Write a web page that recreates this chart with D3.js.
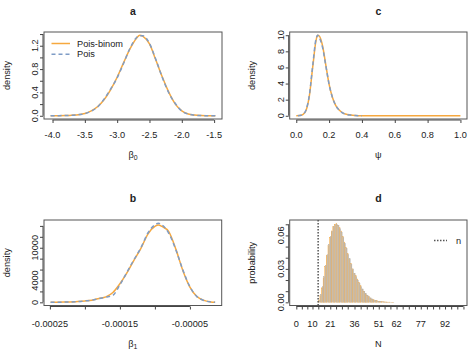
<!DOCTYPE html>
<html><head><meta charset="utf-8">
<script src="https://cdn.jsdelivr.net/npm/d3@7"></script>
<style>body{margin:0;background:#fff} svg{display:block}</style>
</head><body><svg id="chart" width="474" height="354"></svg>
<script>
// ---------- DATA ----------
// panel a: posterior density of beta0
const b0Grid      = [-4.03,-3.9,-3.8,-3.7,-3.6,-3.5,-3.4,-3.3,-3.2,-3.1,-3.0,-2.9,-2.8,-2.7,-2.65,-2.6,-2.5,-2.4,-2.3,-2.2,-2.1,-2.0,-1.9,-1.8,-1.7,-1.6,-1.48];
const b0PoisBinom = [0,0.002,0.005,0.01,0.018,0.038,0.085,0.16,0.28,0.45,0.66,0.91,1.15,1.33,1.38,1.36,1.23,0.95,0.66,0.40,0.20,0.085,0.03,0.012,0.005,0.002,0];
const b0Pois      = [0,0.002,0.004,0.009,0.02,0.035,0.08,0.155,0.29,0.46,0.65,0.90,1.16,1.34,1.37,1.37,1.24,0.96,0.65,0.39,0.21,0.08,0.03,0.01,0.004,0.001,0];
const aYTicks = [0,0.2,0.4,0.6,0.8,1.0,1.2,1.4];
const aYLabels = ["0.0","","0.4","","0.8","","1.2",""];
const aXTicks = [-4.0,-3.5,-3.0,-2.5,-2.0,-1.5];
const aXLabels = ["-4.0","-3.5","-3.0","-2.5","-2.0","-1.5"];

// panel b: posterior density of beta1
const b1Grid      = [-0.000249,-0.00023,-0.00021,-0.0002,-0.00019,-0.00018,-0.00017,-0.00016,-0.00015,-0.00014,-0.00013,-0.00012,-0.00011,-0.0001,-0.000095,-0.00009,-0.00008,-0.00007,-0.00006,-0.00005,-0.00004,-0.00003,-0.00002,-0.000014];
const b1PoisBinom = [0,50,150,250,400,700,1000,1800,3400,5400,7700,9900,12500,13900,14150,13900,12900,9700,5800,2800,1060,350,80,0];
const b1Pois      = [0,40,140,260,420,680,950,1300,3200,5500,7800,10000,12700,14200,14500,14200,12600,9600,5900,2850,1050,330,70,0];
const bYTicks = [0,2000,4000,6000,8000,10000,12000,14000];
const bYLabels = ["0","","4000","","","10000","",""];
const bXTicks = [-0.00025,-0.0002,-0.00015,-0.0001,-0.00005];
const bXLabels = ["-0.00025","","-0.00015","","-0.00005"];

// panel c: posterior density of psi
const psiGridPB   = [0,0.02,0.04,0.06,0.08,0.10,0.12,0.13,0.14,0.16,0.18,0.20,0.22,0.24,0.26,0.28,0.30,0.33,0.36,0.40,0.5,0.6,0.7,0.8,0.9,1.0];
const psiPoisBinom= [0,0.02,0.15,0.7,2.5,6.0,9.3,10.0,9.9,8.7,6.3,3.9,2.3,1.3,0.75,0.4,0.22,0.1,0.04,0.01,0.003,0.001,0,0,0,0];
const psiGridP    = [0.01,0.02,0.04,0.06,0.08,0.10,0.12,0.13,0.14,0.16,0.18,0.20,0.22,0.24,0.26,0.28,0.30,0.33,0.36,0.40];
const psiPois     = [0,0.03,0.17,0.75,2.6,6.2,9.5,10.0,9.7,8.5,6.2,3.9,2.3,1.3,0.72,0.38,0.2,0.09,0.03,0.01];
const cYTicks = [0,2,4,6,8,10];
const cYLabels = ["0","2","4","6","8","10"];
const cXTicks = [0,0.2,0.4,0.6,0.8,1.0];
const cXLabels = ["0.0","0.2","0.4","0.6","0.8","1.0"];

// panel d: posterior probability of N
const nObs = 14;
const dN = d3.range(14, 106);
const dPoisBinom = [0.002,0.006,0.013,0.022,0.032,0.042,0.051,0.058,0.064,0.068,0.070,0.071,0.069,0.067,0.064,0.059,0.054,0.049,0.044,0.039,0.035,0.030,0.026,0.024,0.021,0.018,0.015,0.012,0.010,0.008,0.0065,0.005,0.004,0.003,0.0023,0.0018,0.0014,0.001,0.0008,0.0006,0.0005,0.0004,0.0003,0.0002,0.0002,0.0001,0.0001,
  0,0,0,0,0,0,0,0,0,0,0,0,0,0,0,0,0,0,0,0,0,0,0,0,0,0,0,0,0,0,0,0,0,0,0,0,0,0,0,0,0,0,0,0,0];
const dPois = [0.002,0.007,0.014,0.023,0.033,0.043,0.052,0.059,0.064,0.068,0.070,0.070,0.069,0.066,0.063,0.058,0.053,0.048,0.043,0.039,0.034,0.030,0.026,0.023,0.020,0.017,0.014,0.012,0.010,0.008,0.0063,0.005,0.004,0.003,0.0022,0.0017,0.0013,0.001,0.0008,0.0006,0.0004,0.0003,0.0002,0.0002,0.0001,0.0001,0.0001,
  0,0,0,0,0,0,0,0,0,0,0,0,0,0,0,0,0,0,0,0,0,0,0,0,0,0,0,0,0,0,0,0,0,0,0,0,0,0,0,0,0,0,0,0,0];
const dYTicks = [0,0.01,0.02,0.03,0.04,0.05,0.06,0.07];
const dYLabels = ["0.00","","","0.03","","","0.06",""];
const dXTicks = [0,3.4,6.8,10,13.6,17.2,21,24.6,28.2,31.8,36,39.8,43.6,47.4,51,54.6,58.2,62,65.8,69.6,73.4,77,80.8,84.6,88.4,92,95.8,99.6,103.4];
const dXLabels = ["0","","","10","","","21","","","","36","","","","51","","","62","","","","77","","","","92","","",""];

const seriesNames = ["Pois-binom","Pois"];

// ---------- STYLE ----------
const FONT = '"Liberation Sans", Arial, Helvetica, sans-serif';
const ORANGE = "#F6A83F";
const BLUE = "#7E9CC6";
const AXC = "#444";
const TXT = "#222";
const FS = 9.2;

const svg = d3.select("#chart").style("font-family", FONT);

function rPad(ext){ const r = ext[1]-ext[0]; return [ext[0]-0.04*r, ext[1]+0.04*r]; }

function panel(cfg){
  const [L,T,R,B] = cfg.box;
  const g = svg.append("g");
  const x = d3.scaleLinear().domain(cfg.xDom).range([L,R]);
  const y = d3.scaleLinear().domain(cfg.yDom).range([B,T]);
  // x axis
  const xa = g.append("g").attr("transform",`translate(0,${B})`)
    .call(d3.axisBottom(x).tickValues(cfg.xTicks).tickSize(4).tickFormat(()=>""));
  xa.select(".domain").remove();
  xa.selectAll("line").attr("stroke",AXC).attr("y1",1);
  g.append("line").attr("x1",x(cfg.xTicks[0])).attr("x2",x(cfg.xTicks[cfg.xTicks.length-1]))
    .attr("y1",B+1).attr("y2",B+1).attr("stroke",AXC);
  g.selectAll(".xl").data(cfg.xTicks.map((v,i)=>({v,l:cfg.xLabels[i]})).filter(d=>d.l))
    .enter().append("text").attr("x",d=>x(d.v)).attr("y",B+cfg.xlOff).attr("dy","0.35em")
    .attr("text-anchor","middle").attr("font-size",FS).attr("fill",TXT).text(d=>d.l);
  // y axis
  const ya = g.append("g").attr("transform",`translate(${L},0)`)
    .call(d3.axisLeft(y).tickValues(cfg.yTicks).tickSize(4).tickFormat(()=>""));
  ya.select(".domain").remove();
  ya.selectAll("line").attr("stroke",AXC).attr("x1",-1);
  g.append("line").attr("y1",y(cfg.yTicks[0])).attr("y2",y(cfg.yTicks[cfg.yTicks.length-1]))
    .attr("x1",L-1).attr("x2",L-1).attr("stroke",AXC);
  g.selectAll(".yl").data(cfg.yTicks.map((v,i)=>({v,l:cfg.yLabels[i]})).filter(d=>d.l))
    .enter().append("text").attr("transform",d=>`translate(${L-9},${y(d.v)}) rotate(-90)`)
    .attr("dy","0.35em").attr("text-anchor","middle").attr("font-size",FS).attr("fill",TXT).text(d=>d.l);
  // labels
  g.append("text").attr("x",(L+R)/2).attr("y",T-cfg.titleOff).attr("dy","0.35em").attr("text-anchor","middle")
    .attr("font-size",10.5).attr("font-weight","bold").attr("fill",TXT).text(cfg.title);
  g.append("text").attr("transform",`translate(${L-37.5},${(T+B)/2}) rotate(-90)`).attr("dy","0.35em")
    .attr("text-anchor","middle").attr("font-size",FS).attr("fill",TXT).text(cfg.ylab);
  const xl = g.append("text").attr("x",(L+R)/2).attr("y",B+cfg.xlabOff).attr("dy","0.35em")
    .attr("text-anchor","middle").attr("font-size",FS).attr("fill",TXT);
  xl.append("tspan").text(cfg.xlab[0]);
  if (cfg.xlab[1]) xl.append("tspan").attr("font-size",FS*0.75).attr("dy","0.3em").text(cfg.xlab[1]);
  const plot = g.append("g");
  // box
  g.append("rect").attr("x",L).attr("y",T).attr("width",R-L).attr("height",B-T)
    .attr("fill","none").attr("stroke","#555").attr("stroke-width",1);
  return {x,y,plot,g};
}

function curves(p, gx1, v1, gx2, v2){
  const line = (gx)=>d3.line().x((d,i)=>p.x(gx[i])).y(d=>p.y(d)).curve(d3.curveMonotoneX);
  p.plot.append("path").attr("d",line(gx1)(v1)).attr("fill","none").attr("stroke",ORANGE).attr("stroke-width",1.5);
  p.plot.append("path").attr("d",line(gx2)(v2)).attr("fill","none").attr("stroke",BLUE).attr("stroke-width",1.5)
    .attr("stroke-dasharray","4,3");
}

// panel a
const pa = panel({box:[44,32,222,119], xDom:rPad(d3.extent(b0Grid)), yDom:rPad([0,d3.max(b0PoisBinom)]),
  xTicks:aXTicks, xLabels:aXLabels, yTicks:aYTicks, yLabels:aYLabels, title:"a", titleOff:21,
  ylab:"density", xlab:["β","0"], xlOff:16, xlabOff:36});
curves(pa, b0Grid, b0PoisBinom, b0Grid, b0Pois);
// legend a
const lg = pa.g.append("g");
seriesNames.forEach((s,i)=>{
  const yy = 43.5 + i*10.7;
  lg.append("line").attr("x1",51.5).attr("x2",70).attr("y1",yy).attr("y2",yy)
    .attr("stroke", i===0?ORANGE:BLUE).attr("stroke-width",1.5).attr("stroke-dasharray", i===0?null:"4,3");
  lg.append("text").attr("x",77).attr("y",yy).attr("dy","0.35em").attr("font-size",FS).attr("fill",TXT).text(s);
});

// panel c
const pc = panel({box:[289.7,32,467,119], xDom:rPad(d3.extent(psiGridPB)), yDom:rPad([0,d3.max(psiPoisBinom)]),
  xTicks:cXTicks, xLabels:cXLabels, yTicks:cYTicks, yLabels:cYLabels, title:"c", titleOff:21,
  ylab:"density", xlab:["ψ"], xlOff:16, xlabOff:36});
curves(pc, psiGridPB, psiPoisBinom, psiGridP, psiPois);

// panel b
const pb = panel({box:[44,220,221.7,305.5], xDom:rPad(d3.extent(b1Grid)), yDom:rPad([0,d3.max(b1Pois)]),
  xTicks:bXTicks, xLabels:bXLabels, yTicks:bYTicks, yLabels:bYLabels, title:"b", titleOff:22,
  ylab:"density", xlab:["β","1"], xlOff:18, xlabOff:38});
curves(pb, b1Grid, b1PoisBinom, b1Grid, b1Pois);

// panel d
const pd = panel({box:[289.7,220,467,305.5], xDom:[-4.1,105.6], yDom:rPad([0,d3.max(dPoisBinom)]),
  xTicks:dXTicks, xLabels:dXLabels, yTicks:dYTicks, yLabels:dYLabels, title:"d", titleOff:22,
  ylab:"probability", xlab:["N"], xlOff:18, xlabOff:38});
const clip = svg.append("clipPath").attr("id","clipd").append("rect")
  .attr("x",289.7).attr("y",220).attr("width",467-289.7).attr("height",85.5);
const bars = pd.plot.attr("clip-path","url(#clipd)");
bars.selectAll(".bo").data(dN).enter().append("rect")
  .attr("x",(n)=>pd.x(n-0.42)).attr("width",pd.x(0.42)-pd.x(0))
  .attr("y",(n,i)=>pd.y(dPoisBinom[i])).attr("height",(n,i)=>pd.y(0)-pd.y(dPoisBinom[i]))
  .attr("fill",ORANGE).attr("fill-opacity",0.85).attr("stroke",ORANGE).attr("stroke-width",0.4);
bars.selectAll(".bb").data(dN).enter().append("rect")
  .attr("x",(n)=>pd.x(n)).attr("width",pd.x(0.42)-pd.x(0))
  .attr("y",(n,i)=>pd.y(dPois[i])).attr("height",(n,i)=>pd.y(0)-pd.y(dPois[i]))
  .attr("fill","#A9AEB3").attr("fill-opacity",0.85).attr("stroke","#B8B2A8").attr("stroke-width",0.3);
pd.plot.append("line").attr("x1",pd.x(nObs-0.5)).attr("x2",pd.x(nObs-0.5)).attr("y1",220).attr("y2",305.5)
  .attr("stroke","#555").attr("stroke-width",1.5).attr("stroke-dasharray","1.5,1.5");
// legend d
pd.g.append("line").attr("x1",434).attr("x2",447).attr("y1",240.5).attr("y2",240.5)
  .attr("stroke","#555").attr("stroke-width",1.5).attr("stroke-dasharray","1.5,1.5");
pd.g.append("text").attr("x",456).attr("y",240.5).attr("dy","0.35em").attr("font-size",FS).attr("fill",TXT).text("n");
</script>
</body></html>
